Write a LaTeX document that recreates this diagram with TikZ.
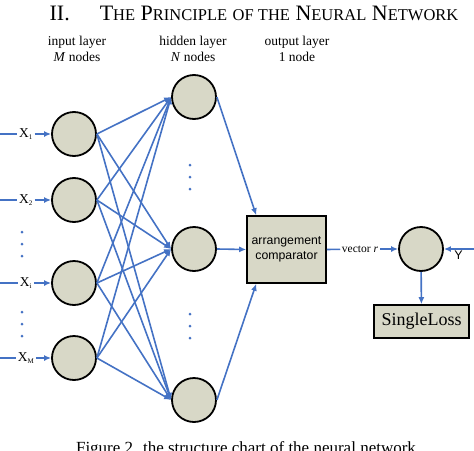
\documentclass[tikz,border=0pt]{standalone}
\usepackage{fontspec}
\setmainfont{Liberation Serif}
\newfontfamily\arialfont{Liberation Sans}
\usetikzlibrary{arrows.meta}
\definecolor{linkblue}{RGB}{68,114,196}
\definecolor{cellfill}{RGB}{216,216,199}
\newcommand{\smcap}[1]{{\fontsize{16.5}{16.5}\selectfont #1}}
\begin{document}
\begin{tikzpicture}[x=1pt,y=-1pt,
		neuron/.style={circle,draw=black,line width=1.8pt,fill=cellfill,minimum size=44pt,inner sep=0pt},
		unit/.style={rectangle,draw=black,line width=1.6pt,fill=cellfill,inner sep=1pt},
		link/.style={draw=linkblue,line width=1.6pt,-{Latex[length=7pt,width=6pt]}},
		feed/.style={draw=linkblue,line width=1.6pt},
		xlab/.style={font=\fontsize{13.5}{13.5}\selectfont,inner sep=1.5pt},
		layer/.style={font=\fontsize{13.5}{16}\selectfont,align=center}]
		\useasboundingbox (0,0) rectangle (474,450);
		% title and layer names
		\node[font=\fontsize{22}{22}\selectfont] (title) at (254,13) {II.\hspace{30pt}T\smcap{HE} P\smcap{RINCIPLE} \smcap{OF THE} N\smcap{EURAL} N\smcap{ETWORK}};
		\node[layer] (lblin) at (77,49) {input layer\\\textit{M} nodes};
		\node[layer] (lblhid) at (193,49) {hidden layer\\\textit{N} nodes};
		\node[layer] (lblout) at (297,49) {output layer\\1 node};
		% input layer
		\node[neuron] (in1) at (74,134) {};
		\node[neuron] (in2) at (74,200) {};
		\node[neuron] (ini) at (74,283) {};
		\node[neuron] (inM) at (74,358) {};
		% hidden layer
		\node[neuron] (h1) at (194,97) {};
		\node[neuron] (h2) at (194,249) {};
		\node[neuron] (h3) at (194,400) {};
		% output side
		\node[unit,minimum width=79pt,minimum height=67pt,align=center,font=\arialfont\fontsize{12.3}{15.5}\selectfont] (cmp) at (286.5,249.5) {arrangement\\comparator};
		\node[neuron] (out) at (421,249) {};
		\node[unit,minimum width=95pt,minimum height=33pt,font=\fontsize{18}{18}\selectfont] (loss) at (421.5,321.5) {SingleLoss};
		% inputs
		\foreach \n/\s/\y in {in1/1/134,in2/2/200,ini/i/283,inM/M/358}
		{
			\coordinate (src\n) at (0,\y);
			\node[xlab] (x\n) at (26,\y) {X\textsubscript{\fontsize{7}{7}\selectfont\s}};
			\draw[feed] (src\n) -- (x\n);
			\draw[link] (x\n) -- (\n);
		}
		% full connections
		\foreach \a in {in1,in2,ini,inM}
		{
			\foreach \b in {h1,h2,h3}
			{
				\draw[link] (\a.east) -- (\b.west);
			}
		}
		\draw[link] (h1.east) -- ([xshift=10pt]cmp.north west);
		\draw[link] (h2.east) -- (cmp.west);
		\draw[link] (h3.east) -- ([xshift=10pt]cmp.south west);
		\node[font=\fontsize{11.5}{11.5}\selectfont,inner sep=1.5pt] (vec) at (360,249) {vector \textit{r}};
		\draw[feed] (cmp.east) -- (vec);
		\draw[link] (vec) -- (out);
		\coordinate (ysrc) at (474,249);
		\draw[link] (ysrc) -- (out.east);
		\node[fill=white,inner sep=0.5pt,font=\arialfont\fontsize{12.5}{12.5}\selectfont] (ylab) at (458.5,255) {Y};
		\draw[link] (out) -- (loss);
		% dots
		\foreach \y in {232,244,256,312,324,336}
		{
			\fill[linkblue] (22,\y) circle (1.5pt);
		}
		\foreach \y in {165,177,189,314,326,338}
		{
			\fill[linkblue] (190,\y) circle (1.5pt);
		}
		% caption
		\node[anchor=base,font=\fontsize{17}{17}\selectfont] (caption) at (246,453) {Figure 2. the structure chart of the neural network};
\end{tikzpicture}
\end{document}
